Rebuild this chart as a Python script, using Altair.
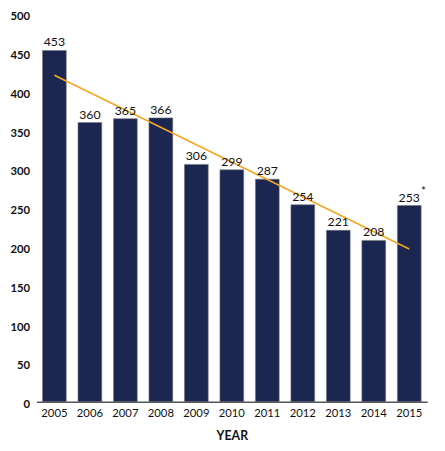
import altair as alt
import pandas as pd

years = ["2005", "2006", "2007", "2008", "2009", "2010", "2011", "2012", "2013", "2014", "2015"]
values = [453, 360, 365, 366, 306, 299, 287, 254, 221, 208, 253]
labels = ["453", "360", "365", "366", "306", "299", "287", "254", "221", "208", "253"]
trend_years = ["2005", "2015"]
trend_values = [421, 197]
star_year = ["2015"]
star_value = [253]
y_ticks = [0, 50, 100, 150, 200, 250, 300, 350, 400, 450, 500]

df = pd.DataFrame({"year": years, "value": values, "label": labels})
trend = pd.DataFrame({"year": trend_years, "value": trend_values})
star = pd.DataFrame({"year": star_year, "value": star_value, "t": ["*"]})

FONT = "Lato"
NAVY = "#1b2651"

x = alt.X("year:N", sort=years, title="YEAR",
          scale=alt.Scale(paddingInner=0.33, paddingOuter=0.17),
          axis=alt.Axis(labelAngle=0, ticks=False, labelPadding=6, labelFont=FONT,
                        labelFontSize=11.5, labelColor="#111111", titleFont=FONT,
                        titleFontSize=12.5, titleFontWeight="bold", titleColor="#111111",
                        titlePadding=11, domainColor="#555555", domainWidth=1.5))
y = alt.Y("value:Q", title=None,
          scale=alt.Scale(domain=[0, 500], nice=False),
          axis=alt.Axis(values=y_ticks, tickCount=11, ticks=False, domain=False, grid=False,
                        labelOverlap=False, labelFlush=False, labelOffset=3,
                        labelFont=FONT, labelFontSize=11.5, labelColor="#111111",
                        labelPadding=7, labelFontWeight="bold"))

bars = alt.Chart(df).mark_bar(color=NAVY, stroke="#777777", strokeWidth=0.6).encode(x=x, y=y)
text = alt.Chart(df).mark_text(dy=-8, font=FONT, fontSize=12.5, color="#111111").encode(
    x=x, y=y, text="label:N")
starmark = alt.Chart(star).mark_text(dx=14.5, dy=-15, font=FONT, fontSize=12, color="#111111").encode(
    x=x, y=y, text="t:N")
line = alt.Chart(trend).mark_line(color="#f5a623", strokeWidth=1.6).encode(x=x, y=y)

chart = alt.layer(bars, line, text, starmark).properties(
    width=398, height=395,
    autosize=alt.AutoSizeParams(type="none"),
    padding={"left": 29, "top": 2, "right": 10, "bottom": 40},
).configure_view(stroke=None)

chart.save("out.html", embed_options={"renderer": "svg", "actions": False})
